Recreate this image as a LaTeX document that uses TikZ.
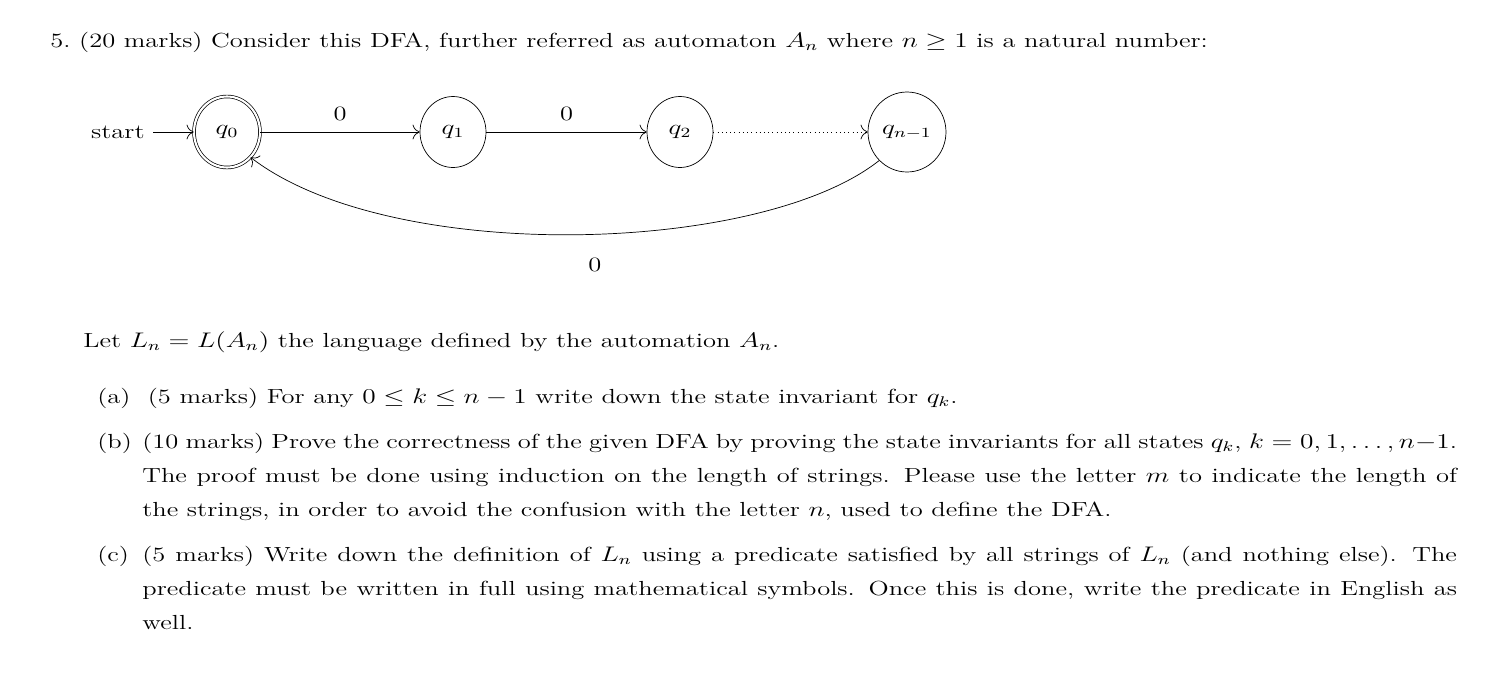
\documentclass[tikz,border=0pt]{standalone}
\usepackage{amsmath}
\usetikzlibrary{shapes.geometric,arrows.meta}
\newcommand{\widetxt}[1]{\scalebox{1.3}[1]{#1}}
\begin{document}
\begin{tikzpicture}[x=0.02cm,y=-0.02cm,
  every node/.style={font=\fontsize{11.6}{19.6}\selectfont},
  st/.style={draw,ellipse,minimum width=1.32cm,minimum height=1.42cm,inner sep=0pt},
  tr/.style={->,>={To[length=4pt]},thin},
  txt/.style={anchor=base west,inner sep=0pt}]
\useasboundingbox (0,0) rectangle (1499,700);
\node[txt] (l1) at (50,47) {\widetxt{5.\ (20 marks) Consider this DFA, further referred as automaton $A_n$ where $n\geq 1$ is a natural number:}};
\node[st,double,double distance=1.2pt] (q0) at (227,132) {\widetxt{$q_0$}};
\node[st] (q1) at (453,132) {\widetxt{$q_1$}};
\node[st] (q2) at (680,132) {\widetxt{$q_2$}};
\node[st,minimum width=1.56cm,minimum height=1.6cm] (qn) at (907,132) {\widetxt{$q_{n-1}$}};
\node[anchor=east,inner sep=0pt] (start) at (145,132) {\widetxt{start}};
\draw[tr] (start.east) ++(8,0) coordinate (s) (s) -- (q0);
\draw[tr] (q0) -- node[above=3pt] {\widetxt{0}} (q1);
\draw[tr] (q1) -- node[above=3pt] {\widetxt{0}} (q2);
\draw[tr,dotted] (q2) -- (qn);
\draw[tr] (qn.south west) .. controls (760,255) and (390,265) .. node[pos=0.47,below=10pt] {\widetxt{0}} (q0.south east);
\node[txt] (let) at (83,347) {\widetxt{Let $L_n = L(A_n)$ the language defined by the automation $A_n$.}};
\node[txt] (a) at (97,403) {\widetxt{(a)\ \ (5 marks) For any $0\leq k\leq n-1$ write down the state invariant for $q_k$.}};
\node[txt] (bl) at (97,448) {\widetxt{(b)}};
\node[txt] (b) at (142,448) {\scalebox{1.3}[1]{\parbox[t]{20.23cm}{\fontsize{11.6}{19.6}\selectfont (10 marks) Prove the correctness of the given DFA by proving the state invariants for all states $q_k$, $k=0,1,\ldots,n{-}1$. The proof must be done using induction on the length of strings. Please use the letter $m$ to indicate the length of the strings, in order to avoid the confusion with the letter $n$, used to define the DFA.}}};
\node[txt] (cl) at (97,561) {\widetxt{(c)}};
\node[txt] (c) at (142,561) {\scalebox{1.3}[1]{\parbox[t]{20.23cm}{\fontsize{11.6}{19.6}\selectfont (5 marks) Write down the definition of $L_n$ using a predicate satisfied by all strings of $L_n$ (and nothing else). The predicate must be written in full using mathematical symbols. Once this is done, write the predicate in English as well.}}};
\end{tikzpicture}
\end{document}
